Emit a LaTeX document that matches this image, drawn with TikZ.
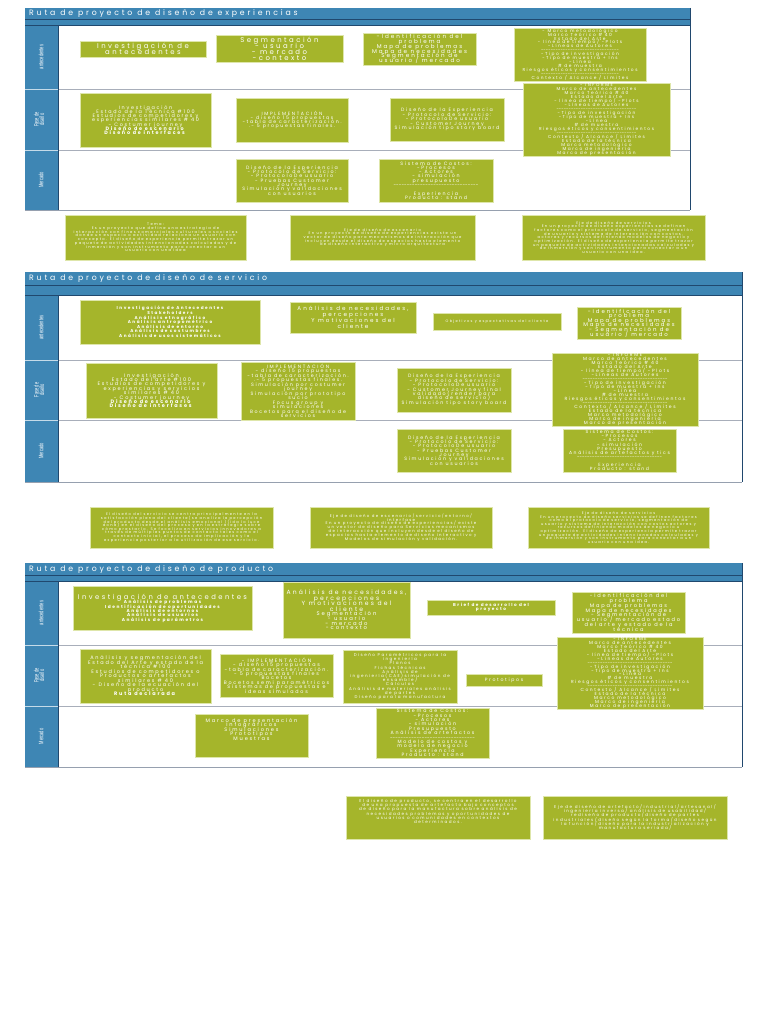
\documentclass[tikz,border=0pt]{standalone}
\usepackage{fontspec}
\usepackage{graphicx}
\setmainfont{Poppins}[LetterSpace=36]
\newfontfamily\narrowfont{Liberation Sans}
\definecolor{olivec}{RGB}{165,181,43}
\definecolor{oliveedge}{RGB}{222,230,170}
\definecolor{bluec}{RGB}{62,134,180}
\definecolor{navyc}{RGB}{32,72,110}
\definecolor{rowc}{RGB}{168,174,186}
\definecolor{frmc}{RGB}{150,160,175}
\lineskiplimit=-30pt
\lineskip=0pt
\newcommand\fscale{1.08}
\newcommand\fs[2]{\fontsize{\fpeval{\fscale*#1}}{#2}\selectfont\lineskiplimit=-30pt\lineskip=0pt\relax}
\newcommand\dsh[1]{\hbox to #1{\xleaders\hbox{-}\hfill}}
\tikzset{
  gb/.style={fill=olivec, draw=oliveedge, line width=0.5pt, inner sep=0pt, outer sep=0pt},
  gt/.style={text=white, align=center, inner sep=0pt, outer sep=0pt},
  ttl/.style={anchor=west, text=white, inner sep=0pt, font=\fs{7.2}{7}},
  lbl/.style={rotate=90, text=white, align=center, inner sep=0pt, font=\narrowfont\fontsize{6.5}{5.5}\selectfont},
}
\newcommand\gbx[7]{\node[gb, minimum width={(#4)-(#2)}, minimum height={(#5)-(#3)}] (#1) at ({((#2)+(#4))/2},{((#3)+(#5))/2}) {};
  \node[gt, font=#6] (#1x) at (#1.center) {#7};}
\newcommand\frm[9]{%
  \fill[white] (25,#1) rectangle (#7,#6);
  \fill[bluec] (25,#1) rectangle (#7,#3);
  \fill[bluec] (25,#3) rectangle (58,#6);
  \draw[navyc, line width=0.8pt] (25,#2) -- (#7,#2);
  \draw[navyc, line width=0.6pt] (25,#3) -- (#7,#3);
  \draw[rowc, line width=0.7pt] (58,#4) -- (#7,#4) (58,#5) -- (#7,#5);
  \draw[white!70!bluec, line width=0.6pt] (25,#4) -- (58,#4) (25,#5) -- (58,#5);
  \draw[frmc, line width=0.6pt] (25,#6) -- (#7,#6);
  \draw[navyc, line width=1pt] (58,#3) -- (58,#6);
  \draw[navyc, line width=0.8pt] (#7,#1) -- (#7,#6);
  \node[ttl] (#9t) at (29,{((#1)+(#2))/2}) {#8};
  \node[lbl] (#9la) at (41,{((#3)+(#4))/2}) {\scalebox{0.62}[1]{antecedentes}};
  \node[lbl] (#9lb) at (39,{((#4)+(#5))/2}) {\scalebox{0.62}[1]{Fase de}\\\scalebox{0.62}[1]{diseño}};
  \node[lbl] (#9lc) at (41,{((#5)+(#6))/2}) {\scalebox{0.62}[1]{Mercado}};
}
\begin{document}
\begin{tikzpicture}[x=1pt,y=-1pt]
\useasboundingbox (0,0) rectangle (768,1024);
\fill[white] (0,0) rectangle (768,1024);

% ---------------- Section 1
\frm{8}{19.5}{25}{89}{150}{210}{690}{Ruta de proyecto de diseño de experiencias}{a}
\gbx{s1a}{80}{41}{206}{57}{\fs{6.4}{6}}{Investigación de\\antecedentes}
\gbx{s1b}{216}{35}{343}{62}{\fs{6.4}{6}}{Segmentación\\- usuario\\- mercado\\-contexto}
\gbx{s1c}{363}{33}{476}{65}{\fs{5.2}{4.8}}{-Identificación del\\problema\\Mapa de problemas\\Mapa de necesidades\\Segmentación de\\usuario / mercado}
\gbx{s1d}{514}{28}{646}{81}{\fs{4}{3.95}}{- Marco metodológico\\Marco Teórico \# 40\\Estado del Arte\\- línea de tiempo/ -Plots\\-Líneas de Autores\\\dsh{78pt}\\-Tipo de investigación\\-Tipo de muestra + Ins\\-Línea\\\# de muestra\\Riesgos éticos y consentimientos\\\dsh{78pt}\\Contexto / Alcance / Límites}
\gbx{s1e}{80}{93}{211}{147}{\fs{4.5}{4.2}}{Investigación\\Estado de la Técnica \#100\\Estudios de competidores y\\experiencias similares \# 40\\- Costumer journey\\\textbf{Diseño de escenario}\\\textbf{Diseño de interfaces}}
\gbx{s1f}{236}{98}{348}{142}{\fs{4.3}{4.3}}{IMPLEMENTACIÓN\\- diseño 15 propuestas\\-tabla de caracterización.\\.- 5 propuestas finales.}
\gbx{s1g}{390}{98}{504}{141}{\fs{4.4}{4.4}}{Diseño de la Experiencia\\- Protocolo de Servicio:\\- ProtocoloDe usuario\\- Customer Journey\\Simulación tipo story board}
\gbx{s1h}{523}{83}{670}{156}{\fs{4}{3.95}}{- INFORME\\Marco de antecedentes\\Marco Teórico \# 40\\Estado del Arte\\- línea de tiempo/ -Plots\\-Líneas de Autores\\\dsh{80pt}\\-Tipo de investigación\\-Tipo de muestra + Ins\\-Línea\\\# de muestra\\Riesgos éticos y consentimientos\\\dsh{80pt}\\Contexto / Alcance / Límites\\Estado de la técnica\\Marco metodológico\\Marco de ingeniería\\Marco de presentación}
\gbx{s1i}{236}{159}{348}{202}{\fs{4.4}{4.3}}{Diseño de la Experiencia\\- Protocolo de Servicio:\\- ProtocoloDe usuario\\- Pruebas Customer\\Journey\\Simulación y validaciones\\con usuarios}
\gbx{s1j}{379}{159}{493}{202}{\fs{4.4}{4.3}}{Sistema de Costos:\\-Procesos\\- Actores\\- simulación\\presupuesto\\\dsh{85pt}\\[4.3pt]Experiencia\\Producto : stand}

\gbx{t1a}{65}{215}{246}{260}{\fs{3.4}{3.7}}{Tema:\\Es un proyecto que define una estrategia de\\interacción con fines comerciales culturales o sociales\\donde un espacio o actividad relaciona un usuario con\\concepto. El diseño de experiencia permite trazar un\\paquete de actividades intencionadas calculadas y de\\inmersión y son instrumento para conectar a un\\usuario con una idea}
\gbx{t1b}{290}{215}{475}{260}{\fs{3.4}{3.7}}{Eje de diseño de escenario\\En un proyecto de diseño de experiencias existe un\\vector de diseño para mecanismos de interacción que\\incluyen desde el diseño de espacios hasta elemento\\de diseño interactivo y micro arquitectura}
\gbx{t1c}{522}{215}{705}{260}{\fs{3.4}{3.7}}{Eje de diseño de servicios\\En un proyecto de diseño experiencias se definen\\factores como el protocolo de servicio, segmentación\\de usuario y sistema de interacción con costos,\\actores y recursos definiendo modelos de negocio y\\optimización. El diseño de experiencia permite trazar\\un paquete de actividades intencionadas calculadas y\\de inmersión y son instrumento para conectar a un\\usuario con una idea.}

% ---------------- Section 2
\frm{272}{285}{295}{360}{420}{482}{742}{Ruta de proyecto de diseño de servicio}{b}
\gbx{s2a}{80}{300}{260}{344}{\fs{3.9}{4.6}\bfseries}{Investigación de Antecedentes\\Stakeholders\\Análisis etnográfico\\Análisis antropométrico\\Análisis de entorno\\Análisis de costumbres\\Análisis de usos sistemáticos}
\gbx{s2b}{290}{302}{416}{333}{\fs{5.2}{5.8}}{Análisis de necesidades,\\percepciones\\Y motivaciones del\\cliente}
\gbx{s2c}{433}{313}{561}{330}{\fs{3.3}{3.5}}{Objetivos y espectativas del cliente}
\gbx{s2d}{577}{307}{681}{339}{\fs{5}{4.6}}{-Identificación del\\problema\\Mapa de problemas\\Mapa de necesidades\\- Segmentación de\\usuario / mercado}
\gbx{s2e}{86}{363}{217}{418}{\fs{4.6}{4.4}}{Investigación\\Estado del arte \#100\\Estudios de competidores y\\experiencias y servicios\\similares \# 40\\- Costumer journey\\\textbf{Diseño de escenario}\\\textbf{Diseño de interfases}}
\gbx{s2f}{241}{362}{355}{420}{\fs{4.4}{4.5}}{IMPLEMENTACIÓN\\- diseño 15 propuestas\\-tabla de caracterización.\\.- 5 propuestas finales.\\Simulación por costumer\\journey\\Simulación por prototipo\\sucio\\Focus group y\\simulaciones\\Bocetos para el diseño de\\servicios}
\gbx{s2g}{397}{368}{511}{412}{\fs{4.4}{4.4}}{Diseño de la Experiencia\\- Protocolo de Servicio:\\- ProtocoloDe usuario\\- Customer Journey final\\validado(render para\\diseño de servicio)\\Simulación tipo story board}
\gbx{s2h}{552}{353}{698}{426}{\fs{4.2}{3.95}}{- INFORME\\Marco de antecedentes\\Marco Teórico \# 40\\Estado del Arte\\- línea de tiempo/ -Plots\\-Líneas de Autores\\\dsh{85pt}\\-Tipo de investigación\\-Tipo de muestra + Ins\\-Línea\\\# de muestra\\Riesgos éticos y consentimientos\\\dsh{85pt}\\Contexto / Alcance / Límites\\Estado de la técnica\\Marco metodológico\\Marco de ingeniería\\Marco de presentación}
\gbx{s2i}{397}{429}{511}{472}{\fs{4.4}{4.3}}{Diseño de la Experiencia\\- Protocolo de Servicio:\\- ProtocoloDe usuario\\- Pruebas Customer\\Journey\\Simulación y validaciones\\con usuarios}
\gbx{s2j}{563}{429}{676}{472}{\fs{4.2}{4.15}}{Sistema de Costos:\\-Procesos\\- Actores\\- simulación\\Presupuesto\\Análisis de artefactos y tics\\\dsh{85pt}\\[4.1pt]Experiencia\\Producto : stand}

\gbx{t2a}{90}{507}{273}{548}{\fs{3.35}{3.6}}{El diseño del servicio se centra principalmente en la\\satisfacción plena del cliente(se analiza la percepción\\del producto desde el análisis emocional )(ida lo luce\\dona) en el diseño del proceso y en la estrategia sobre\\cómo prestarlo. Se focaliza en servicios innovadores a\\través de múltiples puntos de contacto tales como el\\contacto inicial, el proceso de implicación y la\\experiencia posterior a la utilización de ese servicio.}
\gbx{t2b}{310}{507}{492}{548}{\fs{3.6}{3.9}}{Eje de diseño de escenario/servicio/entorno/\\interfase\\En un proyecto de diseño de experiencias/ existe\\un vector de diseño para Servicios mecanismos\\de interacción que incluyen desde el diseño de\\espacios hasta elemento de diseño interactivo y\\Modelos de simulación y validación.}
\gbx{t2c}{528}{507}{709}{548}{\fs{3.35}{3.6}}{Eje de diseño de servicios\\En un proyecto de diseño servicios se definen factores\\como el protocolo de servicio, segmentación de\\usuario y sistema de interacción con costos actores y\\recursos definiendo modelos de negocio u\\optimización. El diseño de experiencia permite trazar\\un paquete de actividades intencionadas calculadas y\\de inmersión y son instrumento para conectar a un\\usuario con una idea.}

% ---------------- Section 3
\frm{563}{575.5}{581}{645}{706}{767}{742}{Ruta de proyecto de diseño de producto}{c}
\gbx{s3a}{73}{586}{252}{630}{\fs{4}{4.3}\bfseries}{{\mdseries\fs{6.3}{6}Investigación de antecedentes}\\[0.6pt]Análisis de problemas\\Identificación de oportunidades\\Análisis de entornos\\Análisis de usuarios\\Análisis de parámetros}
\gbx{s3b}{283}{582}{410}{638}{\fs{4.9}{4.7}}{{\fs{5.6}{5.5}Análisis de necesidades,}\\[0.8pt]{\fs{5.6}{5.5}percepciones}\\[0.8pt]{\fs{5.6}{5.5}Y motivaciones del}\\[0.8pt]{\fs{5.6}{5.5}cliente}\\Segmentación\\- usuario\\- mercado\\-contexto}
\gbx{s3c}{427}{600}{555}{615}{\fs{3.9}{4.2}\bfseries}{Brief de desarrollo del\\proyecto}
\gbx{s3d}{572}{592}{685}{633}{\fs{4.7}{4.8}}{-Identificación del\\problema\\Mapa de problemas\\Mapa de necesidades\\- Segmentación de\\usuario / mercado estado\\del arte y estado de la\\técnica}
\gbx{s3e}{80}{649}{211}{703}{\fs{4.6}{4.5}}{Análisis y segmentación del\\Estado del Arte y estado de la\\técnica \#100\\Estudios de competidores o\\Productos o artefactos\\similares \# 40\\- Diseño de la ecuación del\\producto\\\textbf{Ruta declarada}}
\gbx{s3f}{220}{654}{333}{697}{\fs{4.5}{4.4}}{- IMPLEMENTACIÓN\\- diseño 15 propuestas\\-tabla de caracterización.\\- 5 propuestas finales\\Bocetos\\Bocetos semi paramétricos\\Sistemas de propuestas e\\ideas simulados}
\gbx{s3g}{343}{650}{457}{703}{\fs{3.8}{4.2}}{Diseño Paramétricos para la\\ingeniería\\Planos\\Fichas técnicas\\Análisis de\\ingeniería(CAE)simulación de\\ensamble/\\Cálculos\\Análisis de materiales análisis\\de partes\\Diseño para la manufactura}
\gbx{s3h}{466}{674}{542}{686}{\fs{4.3}{4.3}}{Prototipos}
\gbx{s3i}{557}{637}{703}{709}{\fs{4.1}{3.95}}{- INFORME\\Marco de antecedentes\\Marco Teórico \# 40\\Estado del Arte\\- línea de tiempo/ -Plots\\-Líneas de Autores\\\dsh{85pt}\\-Tipo de investigación\\-Tipo de muestra + Ins\\-Línea\\\# de muestra\\Riesgos éticos y consentimientos\\\dsh{85pt}\\Contexto / Alcance / Límites\\Estado de la técnica\\Marco metodológico\\Marco de ingeniería\\Marco de presentación}
\gbx{s3j}{195}{714}{308}{757}{\fs{4.7}{4.6}}{Marco de presentación\\Infográficos\\Simulaciones\\Prototipos\\Muestras\\[8pt]}
\gbx{s3k}{376}{708}{489}{758}{\fs{4.4}{4.4}}{Sistema de Costos:\\-Procesos\\- Actores\\- simulación\\Presupuesto\\Análisis de artefactos\\\dsh{85pt}\\Modelo de costos y\\modelo de negocio\\Experiencia\\Producto : stand}

\gbx{t3a}{346}{796}{530}{839}{\fs{3.8}{4.2}}{El diseño de producto, se centra en el desarrollo\\de una propuesta de artefacto bajo conceptos\\de diseño para la manufactura sobre análisis de\\necesidades problemas y oportunidades de\\usuarios o comunidades en contextos\\determinados.\\[8pt]}
\gbx{t3b}{543}{796}{727}{839}{\fs{3.8}{4.2}}{Eje de diseño de artefacto/industrial/artesanal/\\ingeniería inversa/ análisis de usabilidad/\\rediseño de producto/diseño de partes\\industriales/diseño según la forma/diseño según\\la función/diseño para la industrialización y\\manufactura seriada/}
\end{tikzpicture}
\end{document}
